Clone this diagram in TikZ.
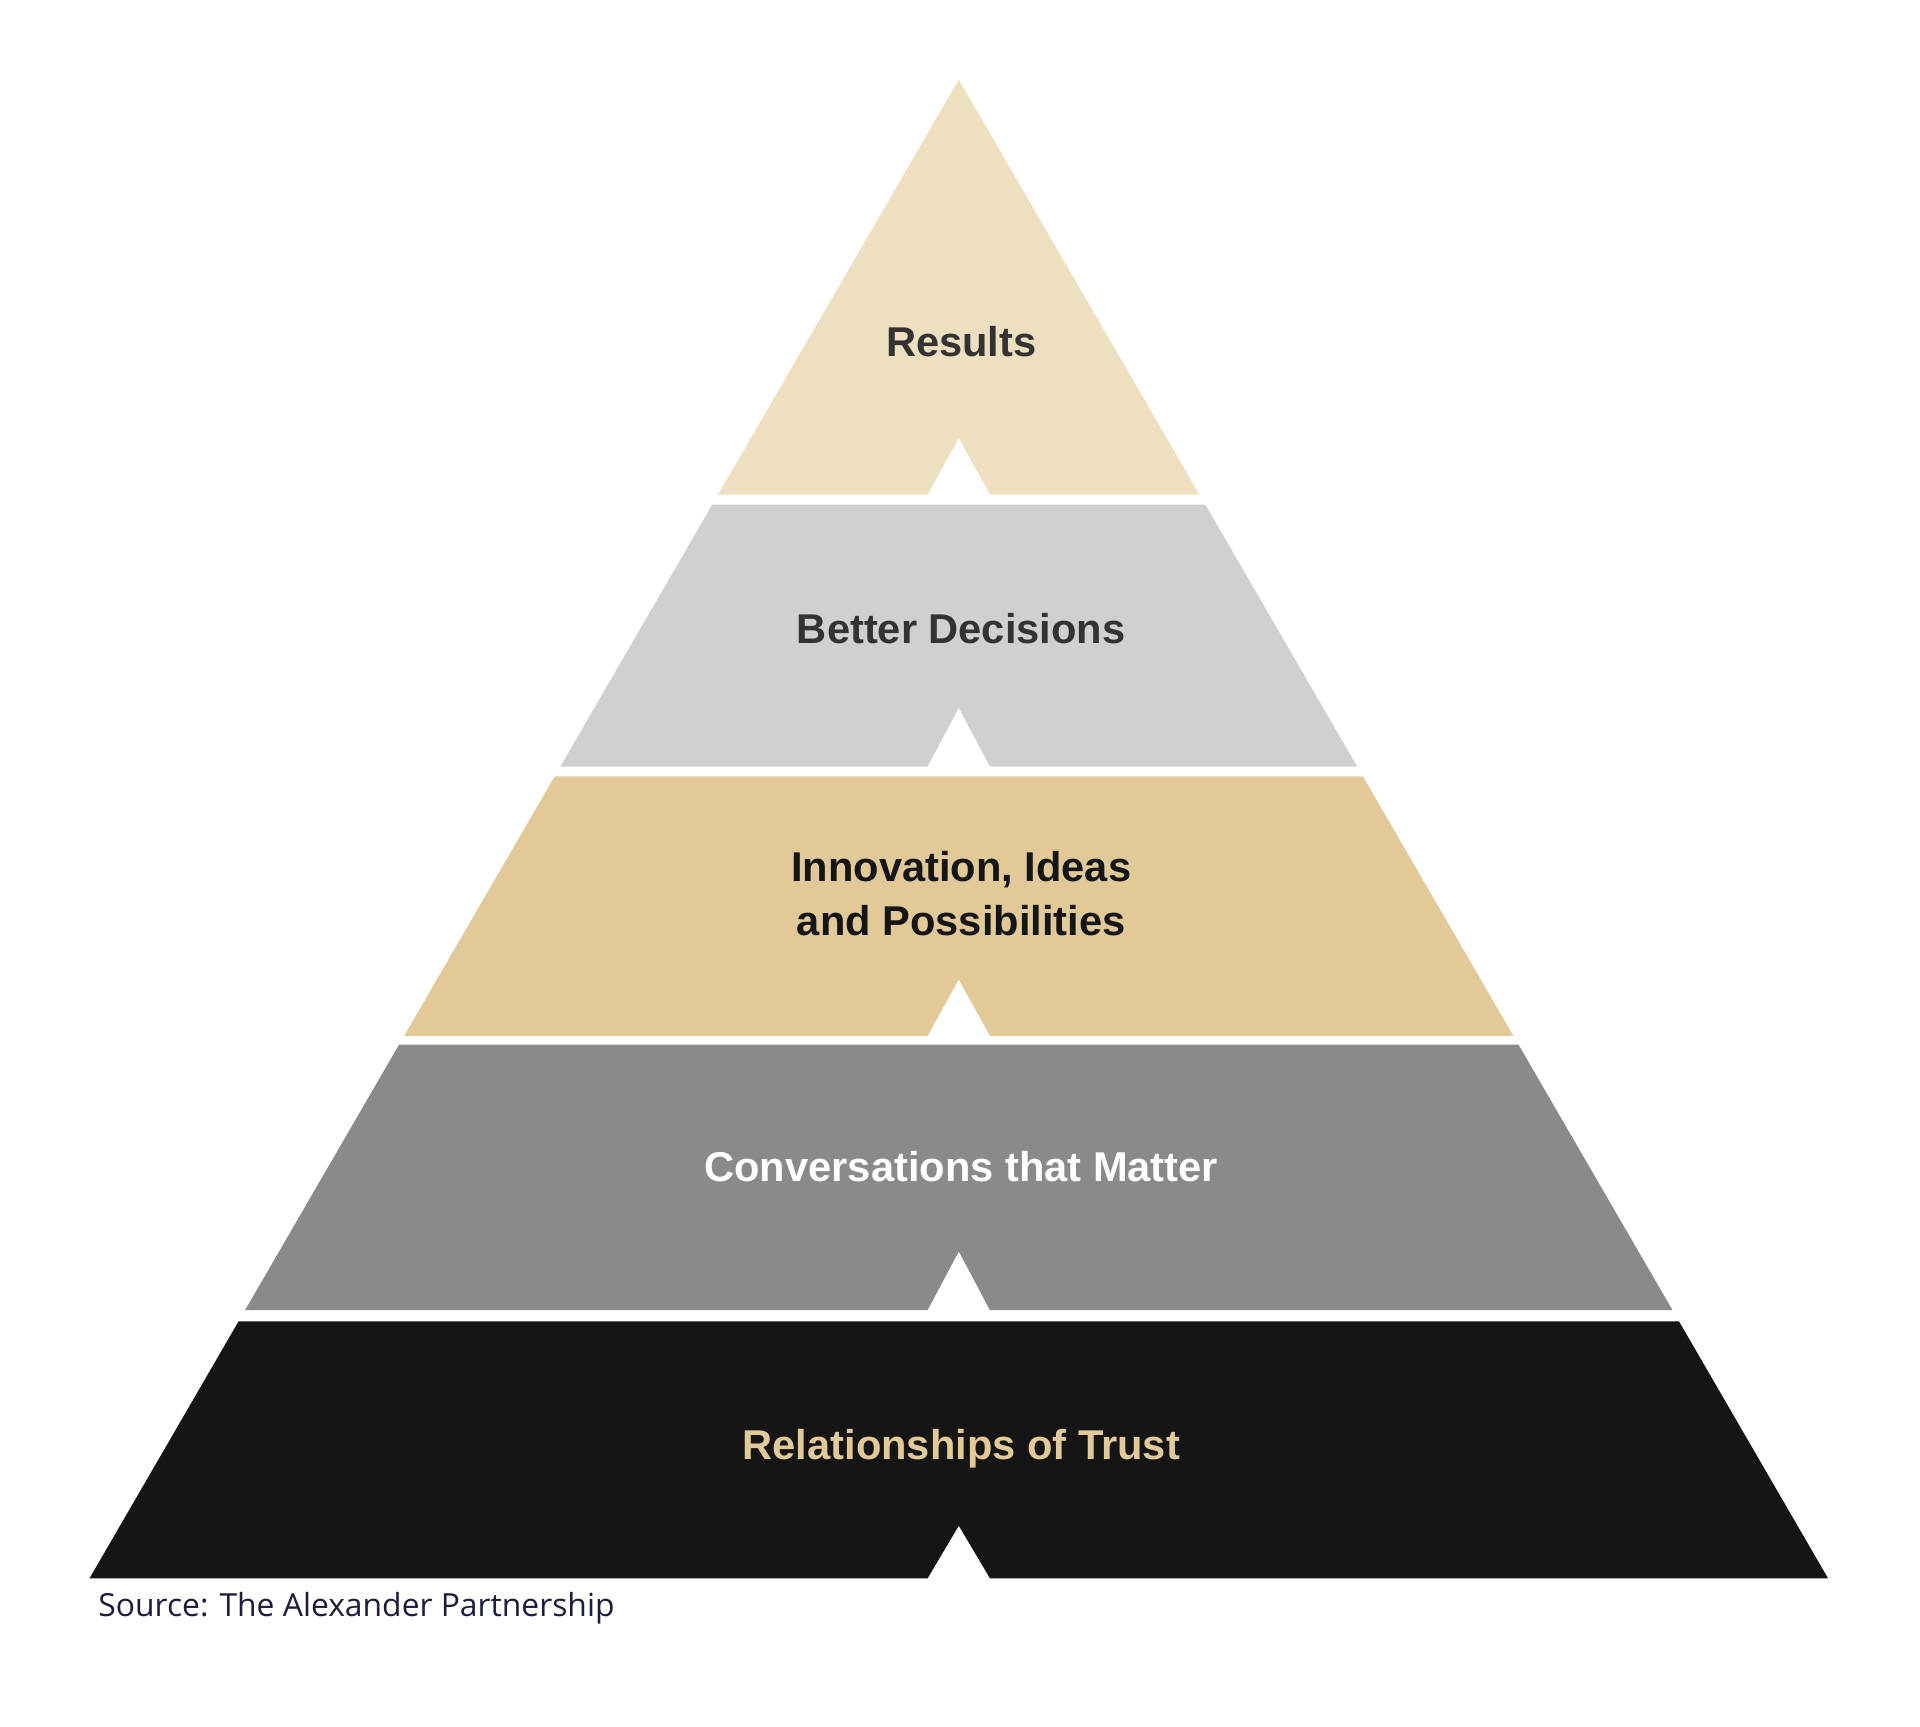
\documentclass[tikz,border=0pt]{standalone}
\usepackage{fontspec}
\setmainfont{Liberation Sans}
\newfontfamily\srcfont{Open Sans}
\definecolor{tA}{HTML}{EDDFBF}
\definecolor{tB}{HTML}{D0D0D0}
\definecolor{tC}{HTML}{E2C998}
\definecolor{tD}{HTML}{8A8A8A}
\definecolor{tE}{HTML}{151515}
\definecolor{txA}{HTML}{333333}
\definecolor{srcc}{HTML}{1C1C3C}
\tikzset{lbl/.style={font=\fontsize{17}{22}\selectfont\bfseries, align=center}}
\newcommand{\tierpoly}[4]{% top y, bottom y, fill, notch apex y
  \fill[#3] ({783-0.58*(#1-65)},#1) -- ({783+0.58*(#1-65)},#1) -- ({783+0.58*(#2-65)},#2)
    -- (808.5,#2) -- (783,#4) -- (757.5,#2) -- ({783-0.58*(#2-65)},#2) -- cycle;}
\begin{document}
\begin{tikzpicture}[x=0.5pt,y=-0.5pt]
\useasboundingbox (0,0) rectangle (1568,1410);
\fill[tA] (783,65) -- ({783+0.58*(404-65)},404) -- (808.5,404) -- (783,358) -- (757.5,404) -- ({783-0.58*(404-65)},404) -- cycle;
\tierpoly{412}{626}{tB}{578}
\tierpoly{634}{846}{tC}{800}
\tierpoly{853}{1070}{tD}{1022}
\tierpoly{1079}{1289}{tE}{1246}
\node[lbl, text=txA] (t1) at (785,279) {Results};
\node[lbl, text=txA] (t2) at (785,513) {Better Decisions};
\node[lbl, text=tE] (t3) at (785,730) {Innovation, Ideas\\and Possibilities};
\node[lbl, text=white] (t4) at (785,953) {Conversations that Matter};
\node[lbl, text=tC] (t5) at (785,1183) {Relationships of Trust};
\node[anchor=west, text=srcc, font=\srcfont\fontsize{13}{16}\selectfont, inner sep=0] (src) at (80,1313) {Source: The Alexander Partnership};
\end{tikzpicture}
\end{document}
